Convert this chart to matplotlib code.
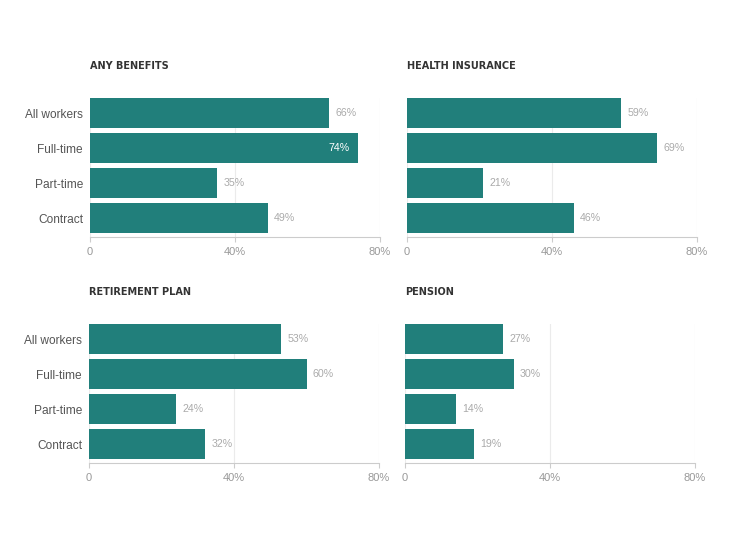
import matplotlib
matplotlib.use("Agg")
import matplotlib.pyplot as plt

plt.rcParams['font.family'] = ['Liberation Sans', 'DejaVu Sans']

categories = ["All workers", "Full-time", "Part-time", "Contract"]
titles = ["ANY BENEFITS", "HEALTH INSURANCE", "RETIREMENT PLAN", "PENSION"]
any_benefits = [66, 74, 35, 49]
health_insurance = [59, 69, 21, 46]
retirement_plan = [53, 60, 24, 32]
pension = [27, 30, 14, 19]
series = [any_benefits, health_insurance, retirement_plan, pension]
xticks = [0, 40, 80]
xtick_labels = ["0", "40%", "80%"]

W, H = 730, 548
bar_color = "#217f7b"

# panel boxes in pixels: left, right, top, bottom, title y
boxes = [
    (90, 380, 98, 237, 66),
    (407, 697, 98, 237, 66),
    (89, 379, 324, 463, 292),
    (405, 695, 324, 463, 292),
]

fig = plt.figure(figsize=(W / 100, H / 100), dpi=100)

for i, (vals, title, box) in enumerate(zip(series, titles, boxes)):
    l, r, t, b, ty = box
    ax = fig.add_axes([l / W, 1 - b / H, (r - l) / W, (b - t) / H])
    y = list(range(len(categories)))
    ax.barh(y, vals, height=0.857, color=bar_color, zorder=2)
    ax.set_xlim(0, 80)
    ax.set_ylim(3.54, -0.43)
    ax.set_xticks(xticks)
    ax.set_xticklabels(xtick_labels)
    ax.tick_params(axis="x", colors="#cccccc", labelcolor="#999999",
                   labelsize=8, length=3.5, width=0.8, pad=4)
    ax.grid(axis="x", color="#ebebeb", linewidth=0.8, zorder=0)
    for s in ["top", "right", "left"]:
        ax.spines[s].set_visible(False)
    ax.spines["bottom"].set_color("#cccccc")
    ax.spines["bottom"].set_linewidth(0.8)
    if i % 2 == 0:
        ax.set_yticks(y)
        ax.set_yticklabels(categories)
        ax.tick_params(axis="y", length=0, labelsize=8.6, labelcolor="#555555", pad=5)
    else:
        ax.set_yticks([])
    for yy, v in zip(y, vals):
        if v > 70:
            ax.annotate(f"{v}%", (v, yy), xytext=(-6, 0), textcoords="offset points",
                        ha="right", va="center", fontsize=7.7, color="white")
        else:
            ax.annotate(f"{v}%", (v, yy), xytext=(4.5, 0), textcoords="offset points",
                        ha="left", va="center", fontsize=7.7, color="#aaaaaa")
    fig.text(l / W, 1 - ty / H, title, ha="left", va="center", fontsize=7,
             fontweight="bold", color="#333333", family=["DejaVu Sans"])

fig.savefig("out.png", dpi=100)
